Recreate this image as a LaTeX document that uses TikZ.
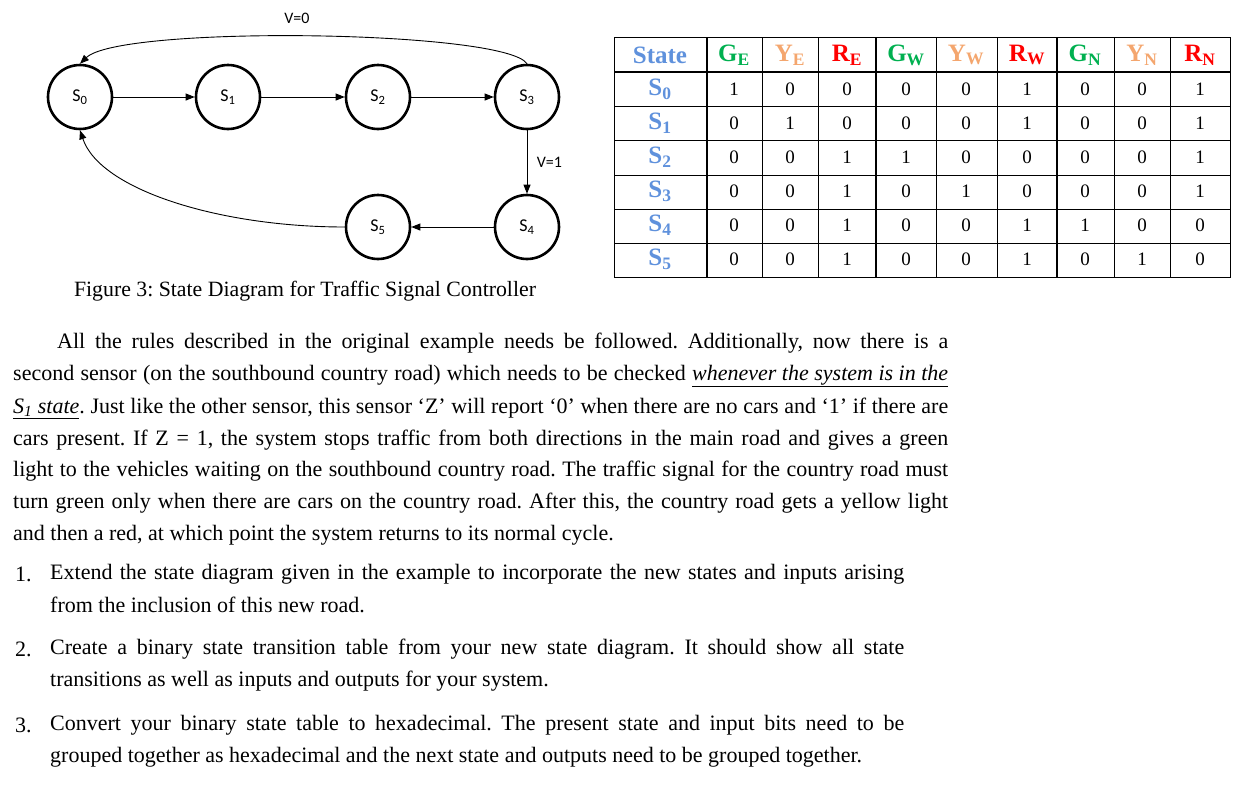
\documentclass[tikz,border=0pt]{standalone}
\usepackage{fontspec}
\setmainfont{Liberation Serif}
\newfontfamily\calfont{Carlito}
\usetikzlibrary{arrows.meta}
\definecolor{gE}{RGB}{0,176,80}
\definecolor{yE}{RGB}{244,166,110}
\definecolor{rE}{RGB}{255,0,0}
\definecolor{stc}{RGB}{95,145,220}
\frenchspacing
\begin{document}
\begin{tikzpicture}[x=1pt,y=-1pt,
  st/.style={circle,draw,line width=2.6pt,minimum size=64pt,inner sep=0pt,font=\calfont\fontsize{18}{18}\selectfont},
  ar/.style={-{Triangle[length=9pt,width=7pt]},line width=0.9pt},
  lbl/.style={font=\calfont\fontsize{16}{16}\selectfont},
  ln/.style={anchor=west,inner sep=0pt,font=\fontsize{22}{26}\selectfont},
  hd/.style={font=\bfseries\fontsize{25}{25}\selectfont},
  cell/.style={font=\fontsize{19}{19}\selectfont}]
\useasboundingbox (0,0) rectangle (1249,807);
% state diagram
\node[st] (s0) at (80,97) {S\textsubscript{0}};
\node[st] (s1) at (228,97) {S\textsubscript{1}};
\node[st] (s2) at (378,97) {S\textsubscript{2}};
\node[st] (s3) at (527,97) {S\textsubscript{3}};
\node[st] (s5) at (378,227) {S\textsubscript{5}};
\node[st] (s4) at (527,227) {S\textsubscript{4}};
\draw[ar] (s0) -- (s1);
\draw[ar] (s1) -- (s2);
\draw[ar] (s2) -- (s3);
\draw[ar] (s3) -- node[lbl,right=6pt]{V=1} (s4);
\draw[ar] (s4) -- (s5);
\draw[ar] (s3.north) .. controls (505,30) and (120,25) .. (s0.north);
\node[lbl] (v0) at (297,18) {V=0};
\draw[ar] (s5.west) .. controls (220,227) and (100,190) .. (s0.south);
\node[font=\fontsize{21.8}{22}\selectfont] (cap) at (305,291) {Figure 3: State Diagram for Traffic Signal Controller};
% table
\draw[line width=0.8pt] (614,37) rectangle (1230,277);
\foreach \y in {106,140,175,209,243} \draw[line width=0.8pt] (614,\y) -- (1230,\y);
\draw[line width=2.4pt] (614,72) -- (1230,72);
\foreach \x in {762,818,936,997,1114,1170} \draw[line width=0.8pt] (\x,37) -- (\x,277);
\foreach \x in {707,876,1057} \draw[line width=2.4pt] (\x,37) -- (\x,277);
\node[hd,text=stc] (h0) at (660,55) {State};
\node[hd,text=gE] (h1) at (734,55) {G\textsubscript{E}};
\node[hd,text=yE] (h2) at (790,55) {Y\textsubscript{E}};
\node[hd,text=rE] (h3) at (847,55) {R\textsubscript{E}};
\node[hd,text=gE] (h4) at (906,55) {G\textsubscript{W}};
\node[hd,text=yE] (h5) at (966,55) {Y\textsubscript{W}};
\node[hd,text=rE] (h6) at (1027,55) {R\textsubscript{W}};
\node[hd,text=gE] (h7) at (1085,55) {G\textsubscript{N}};
\node[hd,text=yE] (h8) at (1142,55) {Y\textsubscript{N}};
\node[hd,text=rE] (h9) at (1200,55) {R\textsubscript{N}};
\foreach \r/\vals [count=\i from 0] in {
  0/{1,0,0,0,0,1,0,0,1},
  1/{0,1,0,0,0,1,0,0,1},
  2/{0,0,1,1,0,0,0,0,1},
  3/{0,0,1,0,1,0,0,0,1},
  4/{0,0,1,0,0,1,1,0,0},
  5/{0,0,1,0,0,1,0,1,0}} {
  \pgfmathsetmacro\yy{89+34*\i}
  \node[hd,text=stc] (r\r) at (660,\yy) {S\textsubscript{\r}};
  \foreach \v [count=\j from 1] in \vals {
    \pgfmathsetmacro\xx{{0,734,790,847,906,966,1027,1085,1142,1200}[\j]}
    \node[cell] (c\r\j) at (\xx,\yy) {\v};
  }
}
% paragraph
\node[ln] (p1) at (57,343) {\makebox[891pt][s]{All the rules described in the original example needs be followed. Additionally, now there is a}};
\node[ln] (p2) at (13,376) {\makebox[935pt][s]{second sensor (on the southbound country road) which needs to be checked \underline{\textit{whenever the system is in the}}}};
\node[ln] (p3) at (13,408) {\makebox[935pt][s]{\underline{\textit{S\textsubscript{1} state}}. Just like the other sensor, this sensor ‘Z’ will report ‘0’ when there are no cars and ‘1’ if there are}};
\node[ln] (p4) at (13,440) {\makebox[935pt][s]{cars present. If Z = 1, the system stops traffic from both directions in the main road and gives a green}};
\node[ln] (p5) at (13,471) {\makebox[935pt][s]{light to the vehicles waiting on the southbound country road. The traffic signal for the country road must}};
\node[ln] (p6) at (13,503) {\makebox[935pt][s]{turn green only when there are cars on the country road. After this, the country road gets a yellow light}};
\node[ln] (p7) at (13,535) {and then a red, at which point the system returns to its normal cycle.};
% list
\node[ln] (n1) at (15,574) {1.};
\node[ln] (l1a) at (50,574) {\makebox[854pt][s]{Extend the state diagram given in the example to incorporate the new states and inputs arising}};
\node[ln] (l1b) at (50,605) {from the inclusion of this new road.};
\node[ln] (n2) at (15,649) {2.};
\node[ln] (l2a) at (50,649) {\makebox[854pt][s]{Create a binary state transition table from your new state diagram. It should show all state}};
\node[ln] (l2b) at (50,681) {transitions as well as inputs and outputs for your system.};
\node[ln] (n3) at (15,725) {3.};
\node[ln] (l3a) at (50,725) {\makebox[854pt][s]{Convert your binary state table to hexadecimal. The present state and input bits need to be}};
\node[ln] (l3b) at (50,757) {grouped together as hexadecimal and the next state and outputs need to be grouped together.};
\end{tikzpicture}
\end{document}
